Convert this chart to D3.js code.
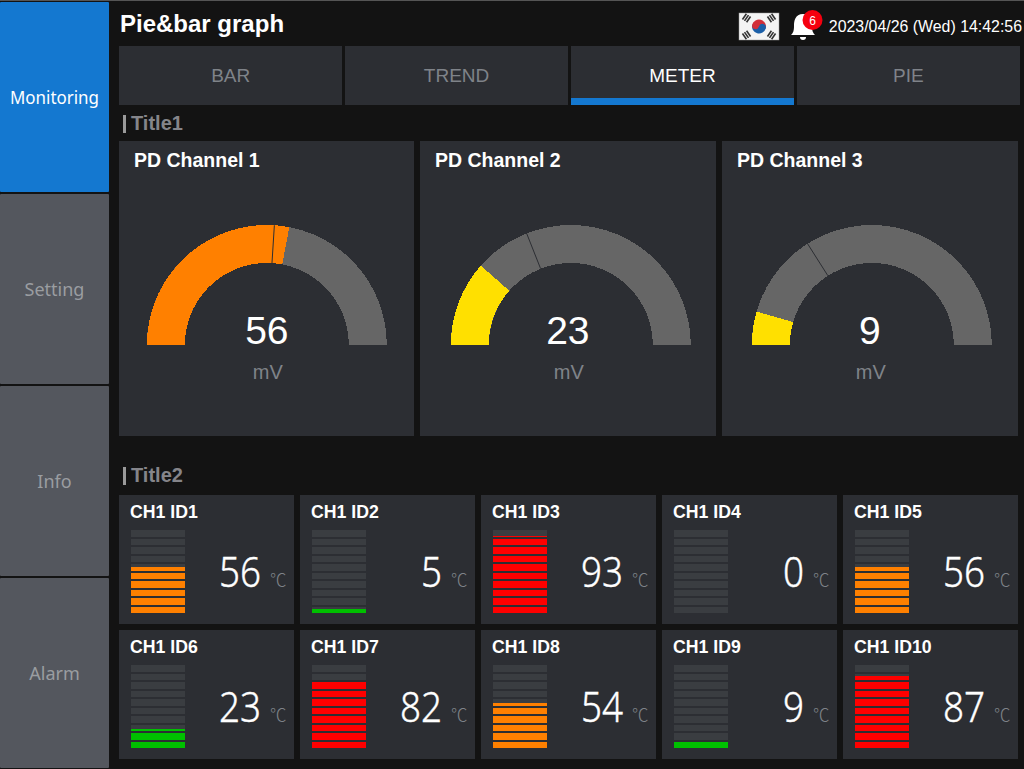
<!DOCTYPE html>
<html>
<head>
<meta charset="utf-8">
<script src="https://cdn.jsdelivr.net/npm/d3@7"></script>
<style>
  html, body { margin: 0; padding: 0; background: #131313; overflow: hidden; }
  svg { display: block; }
  text { font-family: "Liberation Sans", Arial, sans-serif; }
  .noto { font-family: "Noto Sans", sans-serif; }
</style>
</head>
<body>
<div id="chart"></div>
<script>
// Data
const menuItems = ["Monitoring", "Setting", "Info", "Alarm"];
const tabs = ["BAR", "TREND", "METER", "PIE"];
const activeTab = "METER";
const sectionTitles = ["Title1", "Title2"];

const gaugeNames = ["PD Channel 1", "PD Channel 2", "PD Channel 3"];
const gaugeValues = [56, 23, 9];
const gaugeMarkers = [52, 38, 32];
const gaugeUnit = "mV";

const tileNames = ["CH1 ID1", "CH1 ID2", "CH1 ID3", "CH1 ID4", "CH1 ID5",
                   "CH1 ID6", "CH1 ID7", "CH1 ID8", "CH1 ID9", "CH1 ID10"];
const tileValues = [56, 5, 93, 0, 56, 23, 82, 54, 9, 87];
const tileUnit = "℃";

const pageTitle = "Pie&bar graph";
const dateText = "2023/04/26 (Wed) 14:42:56";
const alarmCount = 6;

// Colors
const bg = "#131313";
const panelBg = "#2c2e33";
const trackColor = "#3a3d41";
const gaugeRest = "#666666";
const gaugeColor = d3.scaleThreshold().domain([30, 70]).range(["#ffe000", "#ff8000", "#ff0000"]);
const tileColor = d3.scaleThreshold().domain([30, 70]).range(["#00c000", "#ff8000", "#ff0000"]);

const svg = d3.select("#chart")
    .append("svg")
    .attr("width", 1024)
    .attr("height", 769);

svg.append("rect").attr("width", 1024).attr("height", 769).attr("fill", bg);
svg.append("rect").attr("width", 1024).attr("height", 1).attr("fill", "#555");

// Left menu
const menuScale = d3.scaleBand().domain(menuItems).range([2, 768]).paddingInner(2 / 192);
const menu = svg.selectAll(".menu").data(menuItems).join("g").attr("class", "menu");
menu.append("rect")
    .attr("x", 0)
    .attr("y", (d) => menuScale(d))
    .attr("width", 109)
    .attr("height", menuScale.bandwidth())
    .attr("rx", 1)
    .attr("fill", (d, i) => (i === 0 ? "#1478d0" : "#54575e"));
menu.append("text")
    .attr("class", "noto")
    .attr("x", 54.5)
    .attr("y", (d) => menuScale(d) + menuScale.bandwidth() / 2 + 7)
    .attr("text-anchor", "middle")
    .attr("font-size", 18)
    .attr("fill", (d, i) => (i === 0 ? "#ffffff" : "#9a9da1"))
    .attr("textLength", (d) => (d === "Monitoring" ? 89 : null))
    .attr("lengthAdjust", "spacingAndGlyphs")
    .text((d) => d);

// Header
svg.append("text")
    .attr("x", 120).attr("y", 32)
    .attr("font-size", 24).attr("font-weight", "bold")
    .attr("fill", "#fff")
    .text(pageTitle);
svg.append("text")
    .attr("x", 1022).attr("y", 32)
    .attr("text-anchor", "end")
    .attr("font-size", 15.9)
    .attr("fill", "#fff")
    .text(dateText);

// Flag
const flag = svg.append("g").attr("transform", "translate(759,26.5)");
flag.append("rect")
    .attr("x", -20).attr("y", -13.5).attr("width", 40).attr("height", 27)
    .attr("fill", "#f4f4f4").attr("stroke", "#999").attr("stroke-width", 0.5);
const taeguk = d3.arc().innerRadius(0).outerRadius(7);
flag.append("g").attr("transform", "rotate(15)").call((g) => {
    g.append("path").attr("d", taeguk({ startAngle: -Math.PI / 2, endAngle: Math.PI / 2 })).attr("fill", "#d22f3a");
    g.append("path").attr("d", taeguk({ startAngle: Math.PI / 2, endAngle: 3 * Math.PI / 2 })).attr("fill", "#1b5fa8");
    g.append("circle").attr("cx", -3.5).attr("r", 3.5).attr("fill", "#d22f3a");
    g.append("circle").attr("cx", 3.5).attr("r", 3.5).attr("fill", "#1b5fa8");
});
[[-1, -1], [1, -1], [-1, 1], [1, 1]].forEach(([sx, sy]) => {
    const rot = Math.atan2(sy * 9, sx * 13) * 180 / Math.PI + 90;
    const g = flag.append("g").attr("transform", `translate(${sx * 12.5},${sy * 8.5}) rotate(${rot})`);
    [-2.5, 0, 2.5].forEach((dy) => {
        g.append("rect").attr("x", -3.5).attr("y", dy - 0.8).attr("width", 7).attr("height", 1.6).attr("fill", "#333");
    });
});

// Bell
const bell = svg.append("g").attr("transform", "translate(803,27)");
bell.append("path")
    .attr("d", "M0,-13 C-8,-13 -9,-6 -9,-1 C-9,4 -10,6 -12,8 L12,8 C10,6 9,4 9,-1 C9,-6 8,-13 0,-13 Z")
    .attr("fill", "#fff");
bell.append("path").attr("d", "M-3,10 A3,3 0 0 0 3,10 Z").attr("fill", "#fff");
svg.append("circle").attr("cx", 812.5).attr("cy", 20).attr("r", 10).attr("fill", "#f5000f");
svg.append("text")
    .attr("x", 812.5).attr("y", 24.5)
    .attr("text-anchor", "middle")
    .attr("font-size", 12)
    .attr("fill", "#fff")
    .text(alarmCount);

// Tabs
const tabScale = d3.scaleBand().domain(tabs).range([119, 1020]).paddingInner(2.5 / 226);
const tab = svg.selectAll(".tab").data(tabs).join("g").attr("class", "tab");
tab.append("rect")
    .attr("x", (d) => tabScale(d))
    .attr("y", 46)
    .attr("width", tabScale.bandwidth())
    .attr("height", 59)
    .attr("fill", panelBg)
    .attr("shape-rendering", "crispEdges");
tab.filter((d) => d === activeTab).append("rect")
    .attr("x", (d) => tabScale(d))
    .attr("y", 98)
    .attr("width", tabScale.bandwidth())
    .attr("height", 7)
    .attr("fill", "#1478d0")
    .attr("shape-rendering", "crispEdges");
tab.append("text")
    .attr("x", (d) => tabScale(d) + tabScale.bandwidth() / 2)
    .attr("y", 82)
    .attr("text-anchor", "middle")
    .attr("font-size", 19)
    .attr("fill", (d) => (d === activeTab ? "#fff" : "#7f8389"))
    .text((d) => d);

// Section titles
const sectionY = d3.scaleOrdinal().domain(sectionTitles).range([130, 482]);
const section = svg.selectAll(".section").data(sectionTitles).join("g").attr("class", "section");
section.append("rect")
    .attr("x", 123)
    .attr("y", (d) => sectionY(d) - 15)
    .attr("width", 3)
    .attr("height", 18)
    .attr("fill", "#9a9a9a");
section.append("text")
    .attr("x", 131)
    .attr("y", (d) => sectionY(d))
    .attr("font-size", 20)
    .attr("font-weight", "bold")
    .attr("fill", "#85858a")
    .text((d) => d);

// Gauges
const gaugeX = d3.scaleBand().domain(gaugeNames).range([119, 1018]).paddingInner(6 / 301.67);
const gaugeAngle = d3.scaleLinear().domain([0, 100]).range([-Math.PI / 2, Math.PI / 2]);
const gaugeInner = 82;
const gaugeOuter = 120;
const gaugeArc = d3.arc().innerRadius(gaugeInner).outerRadius(gaugeOuter);
const dialShift = [0, 3, 2]; // the dials sit a little right of the panel centre

const gauge = svg.selectAll(".gauge")
    .data(gaugeNames.map((name, i) => ({ name, value: gaugeValues[i], marker: gaugeMarkers[i], shift: dialShift[i] })))
    .join("g")
    .attr("class", "gauge")
    .attr("transform", (d) => `translate(${Math.floor(gaugeX(d.name))},141)`);

gauge.append("rect")
    .attr("width", (d) => Math.floor(gaugeX(d.name) + gaugeX.bandwidth()) - Math.floor(gaugeX(d.name)))
    .attr("height", 295)
    .attr("fill", panelBg);
gauge.append("text")
    .attr("x", 15).attr("y", 26)
    .attr("font-size", 19.5).attr("font-weight", "bold")
    .attr("fill", "#fff")
    .text((d) => d.name);

const dial = gauge.append("g")
    .attr("transform", (d) => `translate(${gaugeX.bandwidth() / 2 + d.shift},204)`);
dial.append("path")
    .attr("d", gaugeArc({ startAngle: gaugeAngle(0), endAngle: gaugeAngle(100) }))
    .attr("fill", gaugeRest)
    .attr("shape-rendering", "crispEdges");
dial.append("path")
    .attr("d", (d) => gaugeArc({ startAngle: gaugeAngle(0), endAngle: gaugeAngle(d.value) }))
    .attr("fill", (d) => gaugeColor(d.value))
    .attr("shape-rendering", "crispEdges");
dial.append("line")
    .attr("x1", (d) => d3.pointRadial(gaugeAngle(d.marker), gaugeInner)[0])
    .attr("y1", (d) => d3.pointRadial(gaugeAngle(d.marker), gaugeInner)[1])
    .attr("x2", (d) => d3.pointRadial(gaugeAngle(d.marker), gaugeOuter)[0])
    .attr("y2", (d) => d3.pointRadial(gaugeAngle(d.marker), gaugeOuter)[1])
    .attr("stroke", panelBg)
    .attr("stroke-width", 1);

const readout = gauge.append("g")
    .attr("transform", `translate(${gaugeX.bandwidth() / 2},204)`);
readout.append("text")
    .attr("y", -1)
    .attr("text-anchor", "middle")
    .attr("font-size", 39)
    .attr("fill", "#fff")
    .text((d) => d.value);
readout.append("text")
    .attr("x", 1)
    .attr("y", 34)
    .attr("text-anchor", "middle")
    .attr("font-size", 20)
    .attr("fill", "#7f8389")
    .text(gaugeUnit);

// Tiles
const tileIndex = d3.range(5);
const tileX = d3.scaleBand().domain(tileIndex).range([119, 1018]).paddingInner(6 / 181);
const tileRows = [495, 630];
const tileH = 129;
const segments = d3.range(10);
const segY = d3.scaleBand().domain(segments).range([35, 118]).paddingInner(2 / 8.5);
const levelY = d3.scaleLinear().domain([0, 100]).range([118, 35]);

const tile = svg.selectAll(".tile")
    .data(tileNames.map((name, i) => ({ name, value: tileValues[i], col: i % 5, row: Math.floor(i / 5) })))
    .join("g")
    .attr("class", "tile")
    .attr("transform", (d) => `translate(${tileX(d.col)},${tileRows[d.row]})`);

tile.append("rect")
    .attr("width", tileX.bandwidth())
    .attr("height", tileH)
    .attr("fill", panelBg);
tile.append("text")
    .attr("x", 11).attr("y", 22.5)
    .attr("font-size", 17.7).attr("font-weight", "bold")
    .attr("fill", "#fff")
    .text((d) => d.name);

tile.each(function (d) {
    const g = d3.select(this);
    const seg = g.selectAll(".seg").data(segments).join("g").attr("class", "seg")
        .attr("shape-rendering", "crispEdges");
    seg.append("rect")
        .attr("x", 12)
        .attr("y", (s) => segY(s))
        .attr("width", 54)
        .attr("height", segY.bandwidth())
        .attr("fill", trackColor);
    const top = levelY(d.value);
    seg.filter((s) => segY(s) + segY.bandwidth() > top)
        .append("rect")
        .attr("x", 12)
        .attr("y", (s) => Math.max(segY(s), top))
        .attr("width", 54)
        .attr("height", (s) => segY(s) + segY.bandwidth() - Math.max(segY(s), top))
        .attr("fill", tileColor(d.value));
});

tile.append("text")
    .attr("class", "noto")
    .attr("x", 142).attr("y", 91.5)
    .attr("text-anchor", "end")
    .attr("font-size", 42)
    .attr("font-weight", 300)
    .attr("fill", "#fff")
    .attr("stroke", "#fff")
    .attr("stroke-width", 0.4)
    .attr("textLength", (d) => String(d.value).length * 21)
    .attr("lengthAdjust", "spacingAndGlyphs")
    .text((d) => d.value);
tile.append("text")
    .attr("x", 151).attr("y", 91)
    .style("font-family", "'Noto Sans CJK KR', sans-serif")
    .attr("font-size", 16.5)
    .attr("font-weight", 300)
    .attr("fill", "#7f8389")
    .text(tileUnit);
</script>
</body>
</html>
